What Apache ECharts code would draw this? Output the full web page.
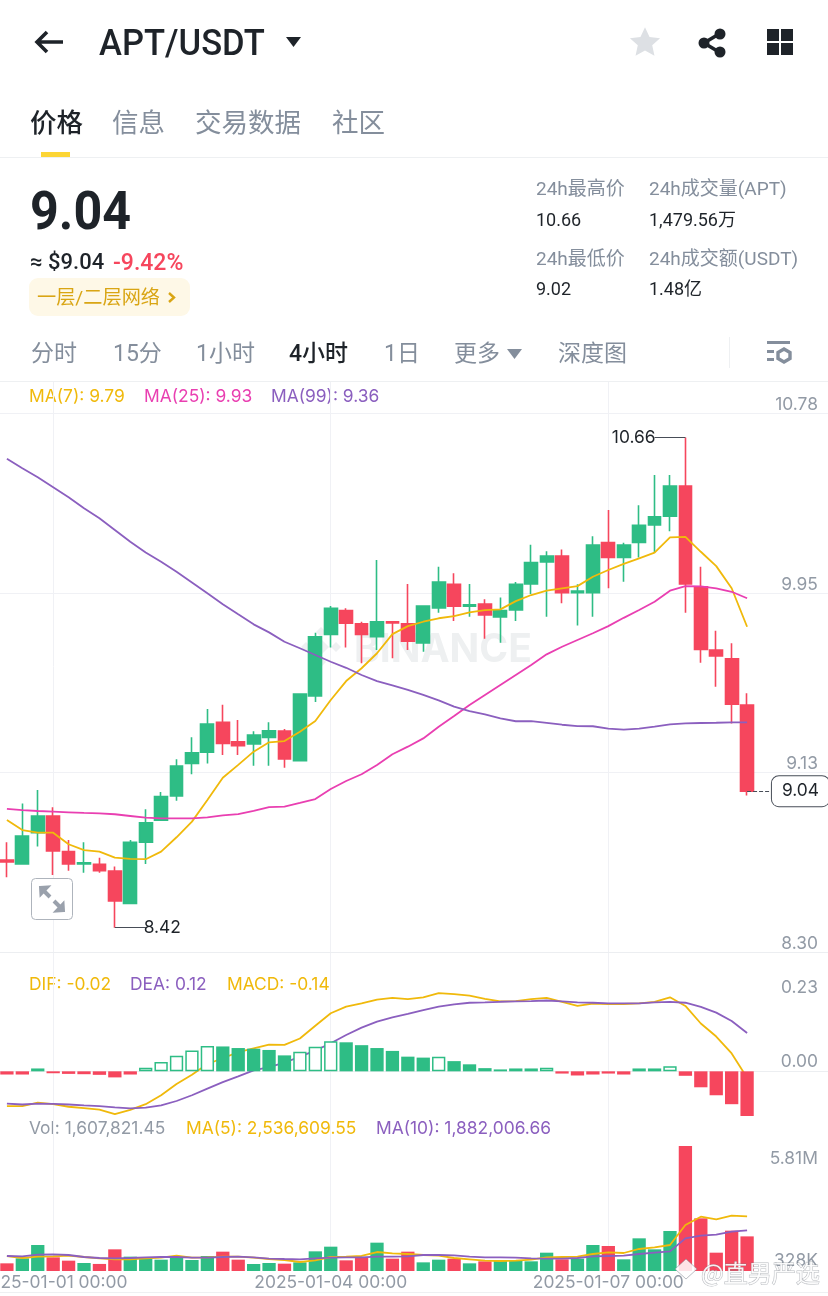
<!DOCTYPE html>
<html lang="zh">
<head>
<meta charset="utf-8">
<title>APT/USDT</title>
<script src="https://cdn.jsdelivr.net/npm/echarts@6/dist/echarts.min.js"></script>
<style>
  html, body { margin: 0; padding: 0; background: #fff; }
  #page { position: relative; width: 828px; height: 1296px; overflow: hidden; font-family: Roboto, "Noto Sans CJK SC", sans-serif; }
  #chart { position: absolute; left: 0; top: 0; width: 828px; height: 1296px; }
  .t { position: absolute; white-space: nowrap; line-height: 1; color: #848E9C; }
  .d { color: #1E2329; }
  .rule { position: absolute; left: 0; width: 828px; height: 1px; background: #EEF0F2; }
  svg { position: absolute; overflow: visible; }
</style>
</head>
<body>
<div id="page">
  <div id="chart"></div>

  <svg style="left:34px;top:30px" width="30" height="24" viewBox="0 0 30 24"><path d="M13 2 3 12l10 10M3 12h26" fill="none" stroke="#1E2329" stroke-width="3.6"/></svg>
  <div class="t d" style="left:99px;top:25px;font-size:36px;font-weight:500;transform:scaleX(.96);transform-origin:left">APT/USDT</div>
  <svg style="left:286px;top:37px" width="15" height="10"><path d="M0 0h15L7.500 10z" fill="#1E2329"/></svg>
  <svg style="left:629px;top:26px" width="32" height="32" viewBox="0 0 24 24"><path d="M12 1l3.400 7.300 7.900.9-5.900 5.300 1.700 7.800L12 18.300l-7.100 4 1.700-7.800L.7 9.200l7.900-.9z" fill="#DDE0E4"/></svg>
  <svg style="left:698px;top:28px" width="28" height="30" viewBox="0 0 28 30"><path d="M21 6 6 15l15 9" fill="none" stroke="#1E2329" stroke-width="3.600"/><circle cx="22" cy="6" r="5.500" fill="#1E2329"/><circle cx="6" cy="15" r="5.500" fill="#1E2329"/><circle cx="22" cy="24" r="5.500" fill="#1E2329"/></svg>
  <svg style="left:767px;top:29px" width="26" height="26"><path d="M0 0h12v12H0zM14 0h12v12H14zM0 14h12v12H0zM14 14h12v12H14z" fill="#1E2329"/></svg>

  <div class="t d" style="left:30px;top:110px;font-size:26.500px;font-weight:500">价格</div>
  <div class="t" style="left:112px;top:110px;font-size:26.500px">信息</div>
  <div class="t" style="left:195px;top:110px;font-size:26.500px">交易数据</div>
  <div class="t" style="left:332px;top:110px;font-size:26.500px">社区</div>
  <div style="position:absolute;left:41px;top:152px;width:29px;height:5px;background:#FCD535"></div>
  <div class="rule" style="top:157px"></div>

  <div class="t d" style="left:30px;top:184px;font-size:54px;font-weight:700;transform:scaleX(.93);transform-origin:left">9.04</div>
  <div class="t d" style="left:30px;top:251px;font-size:22px;font-weight:500">≈ $9.04</div>
  <div class="t" style="left:113px;top:251px;font-size:23px;font-weight:500;color:#F6465D">-9.42%</div>
  <div style="position:absolute;left:29px;top:278px;width:161px;height:38px;border-radius:9px;background:#FEF8E7"></div>
  <div class="t" style="left:37px;top:288px;font-size:19.200px;color:#D9A514">一层/二层网络</div>
  <svg style="left:167px;top:291px" width="9" height="13"><path d="M2 2l5 4.500-5 4.500" fill="none" stroke="#D9A514" stroke-width="2.400"/></svg>

  <div class="t" style="left:536px;top:179px;font-size:19px">24h最高价</div>
  <div class="t d" style="left:536px;top:211px;font-size:18px">10.66</div>
  <div class="t" style="left:649px;top:179px;font-size:19px">24h成交量(APT)</div>
  <div class="t d" style="left:649px;top:211px;font-size:18px">1,479.56万</div>
  <div class="t" style="left:536px;top:249px;font-size:19px">24h最低价</div>
  <div class="t d" style="left:536px;top:280px;font-size:18px">9.02</div>
  <div class="t" style="left:649px;top:249px;font-size:19px">24h成交额(USDT)</div>
  <div class="t d" style="left:649px;top:280px;font-size:18px">1.48亿</div>

  <div class="t" style="left:31px;top:342px;font-size:23px">分时</div>
  <div class="t" style="left:113px;top:342px;font-size:23px">15分</div>
  <div class="t" style="left:196px;top:342px;font-size:23px">1小时</div>
  <div class="t d" style="left:289px;top:342px;font-size:23px;font-weight:500">4小时</div>
  <div class="t" style="left:384px;top:342px;font-size:23px">1日</div>
  <div class="t" style="left:454px;top:342px;font-size:23px">更多</div>
  <svg style="left:507px;top:349px" width="15" height="10"><path d="M0 0h15L7.500 10z" fill="#848E9C"/></svg>
  <div class="t" style="left:558px;top:342px;font-size:23px">深度图</div>
  <div style="position:absolute;left:729px;top:337px;width:1px;height:31px;background:#EEF0F2"></div>
  <svg style="left:767px;top:341px" width="24" height="24"><path d="M0 0h23v3H0zM0 9h7v3H0zM0 17h7v3H0z" fill="#848E9C"/><path d="M17 8l6 3.500v6L17 21l-6-3.500v-6z" fill="none" stroke="#848E9C" stroke-width="3.400"/></svg>
  <div class="rule" style="top:381px"></div>

  <svg style="left:31px;top:878px" width="42" height="42"><rect x=".5" y=".5" width="41" height="41" rx="4" fill="#fff" stroke="#AEB4BC"/><path d="M9 9l9-.5-8.500 9zM33 33l-9 .5 8.500-9z" fill="#9AA1AC" stroke="#9AA1AC" stroke-width="2"/><path d="M12 12l7 7M30 30l-7-7" stroke="#9AA1AC" stroke-width="4"/></svg>

  <div class="rule" style="top:1292px"></div>
</div>

<script>
/* ========== 行情数据 ========== */

const timeLabels = [
  '2024-12-31 12:00', '2024-12-31 16:00', '2024-12-31 20:00',
  '2025-01-01 00:00', '2025-01-01 04:00', '2025-01-01 08:00', '2025-01-01 12:00', '2025-01-01 16:00', '2025-01-01 20:00',
  '2025-01-02 00:00', '2025-01-02 04:00', '2025-01-02 08:00', '2025-01-02 12:00', '2025-01-02 16:00', '2025-01-02 20:00',
  '2025-01-03 00:00', '2025-01-03 04:00', '2025-01-03 08:00', '2025-01-03 12:00', '2025-01-03 16:00', '2025-01-03 20:00',
  '2025-01-04 00:00', '2025-01-04 04:00', '2025-01-04 08:00', '2025-01-04 12:00', '2025-01-04 16:00', '2025-01-04 20:00',
  '2025-01-05 00:00', '2025-01-05 04:00', '2025-01-05 08:00', '2025-01-05 12:00', '2025-01-05 16:00', '2025-01-05 20:00',
  '2025-01-06 00:00', '2025-01-06 04:00', '2025-01-06 08:00', '2025-01-06 12:00', '2025-01-06 16:00', '2025-01-06 20:00',
  '2025-01-07 00:00', '2025-01-07 04:00', '2025-01-07 08:00', '2025-01-07 12:00', '2025-01-07 16:00', '2025-01-07 20:00',
  '2025-01-08 00:00', '2025-01-08 04:00', '2025-01-08 08:00', '2025-01-08 12:00'
]
const shownTimes = ['2025-01-01 00:00', '2025-01-04 00:00', '2025-01-07 00:00']

const opens = [
  8.723, 8.705, 8.849, 8.926, 8.762, 8.705, 8.704, 8.673, 8.524, 8.805,
  8.907, 9.018, 9.168, 9.219, 9.357, 9.268, 9.257, 9.288, 9.317, 9.180,
  9.479, 9.762, 9.871, 9.811, 9.751, 9.820, 9.811, 9.722, 9.883, 9.992,
  9.892, 9.901, 9.842, 9.874, 9.994, 10.095, 10.122, 9.954, 9.954, 10.184,
  10.116, 10.185, 10.265, 10.306, 10.445, 9.981, 9.690, 9.650, 9.437
]
const closes = [
  8.714, 8.834, 8.926, 8.765, 8.705, 8.711, 8.674, 8.535, 8.805, 8.895,
  9.015, 9.156, 9.217, 9.349, 9.260, 9.249, 9.299, 9.318, 9.188, 9.487,
  9.751, 9.882, 9.813, 9.762, 9.820, 9.814, 9.731, 9.892, 10.003, 9.892,
  9.898, 9.851, 9.871, 9.992, 10.092, 10.122, 9.954, 9.961, 10.173, 10.116,
  10.173, 10.264, 10.303, 10.445, 9.994, 9.693, 9.662, 9.440, 9.04
]
const lows = [
  8.644, 8.705, 8.785, 8.654, 8.674, 8.665, 8.665, 8.412, 8.524, 8.705,
  8.907, 8.996, 9.118, 9.168, 9.207, 9.207, 9.157, 9.157, 9.148, 9.180,
  9.451, 9.702, 9.702, 9.629, 9.690, 9.652, 9.690, 9.682, 9.861, 9.823,
  9.843, 9.742, 9.723, 9.823, 9.948, 9.843, 9.905, 9.803, 9.843, 9.974,
  10.004, 10.116, 10.138, 10.237, 9.861, 9.631, 9.521, 9.352, 9.02
]
const highs = [
  8.805, 8.984, 9.046, 8.966, 8.815, 8.805, 8.734, 8.693, 8.815, 8.957,
  9.036, 9.187, 9.288, 9.418, 9.438, 9.368, 9.316, 9.357, 9.326, 9.487,
  9.769, 9.892, 9.882, 9.820, 10.104, 9.820, 9.994, 9.892, 10.073, 10.043,
  9.994, 9.923, 9.932, 10.003, 10.174, 10.145, 10.153, 9.992, 10.214, 10.334,
  10.184, 10.356, 10.495, 10.495, 10.668, 10.073, 9.779, 9.721, 9.491
]

const ma7 = [
  8.907, 8.861, 8.849, 8.849, 8.796, 8.769, 8.762, 8.734, 8.729, 8.727,
  8.762, 8.828, 8.900, 9.000, 9.102, 9.161, 9.222, 9.265, 9.271, 9.314,
  9.363, 9.460, 9.547, 9.606, 9.675, 9.763, 9.800, 9.820, 9.836, 9.846,
  9.863, 9.873, 9.877, 9.915, 9.943, 9.963, 9.974, 9.984, 10.027, 10.058,
  10.086, 10.112, 10.138, 10.208, 10.211, 10.142, 10.076, 9.974, 9.797
]
const ma25 = [
  8.959, 8.953, 8.949, 8.946, 8.943, 8.940, 8.938, 8.934, 8.926, 8.918,
  8.915, 8.915, 8.915, 8.920, 8.929, 8.935, 8.950, 8.967, 8.969, 8.986,
  9.004, 9.050, 9.087, 9.118, 9.161, 9.210, 9.245, 9.283, 9.337, 9.386,
  9.437, 9.483, 9.529, 9.575, 9.621, 9.670, 9.705, 9.736, 9.767, 9.800,
  9.838, 9.874, 9.912, 9.963, 9.984, 9.983, 9.974, 9.958, 9.928
]
const ma99 = [
  10.570, 10.526, 10.485, 10.439, 10.393, 10.342, 10.296, 10.242, 10.188, 10.139,
  10.096, 10.050, 10.001, 9.951, 9.901, 9.854, 9.808, 9.771, 9.728, 9.698,
  9.667, 9.636, 9.608, 9.575, 9.547, 9.527, 9.506, 9.483, 9.458, 9.429,
  9.409, 9.394, 9.375, 9.362, 9.363, 9.355, 9.346, 9.340, 9.339, 9.328,
  9.323, 9.328, 9.337, 9.348, 9.352, 9.354, 9.355, 9.357, 9.357
]

const dif = [
  -0.109, -0.109, -0.098, -0.103, -0.111, -0.115, -0.120, -0.134, -0.121, -0.103,
  -0.075, -0.040, -0.011, 0.023, 0.041, 0.060, 0.072, 0.084, 0.083, 0.103,
  0.143, 0.182, 0.203, 0.213, 0.225, 0.230, 0.226, 0.232, 0.245, 0.242,
  0.237, 0.227, 0.219, 0.220, 0.226, 0.230, 0.218, 0.205, 0.212, 0.211,
  0.211, 0.213, 0.218, 0.232, 0.205, 0.150, 0.109, 0.056, -0.02
]
const dea = [
  -0.101, -0.104, -0.101, -0.102, -0.104, -0.107, -0.109, -0.113, -0.116, -0.114,
  -0.107, -0.093, -0.075, -0.054, -0.034, -0.016, 0.003, 0.013, 0.027, 0.046,
  0.065, 0.088, 0.114, 0.137, 0.156, 0.169, 0.180, 0.192, 0.203, 0.210,
  0.215, 0.216, 0.218, 0.219, 0.220, 0.222, 0.219, 0.216, 0.215, 0.213,
  0.213, 0.213, 0.216, 0.218, 0.215, 0.202, 0.184, 0.158, 0.12
]
const macd = [
  -0.010, -0.010, 0.009, -0.006, -0.008, -0.009, -0.011, -0.019, -0.010, 0.011,
  0.029, 0.049, 0.065, 0.079, 0.078, 0.073, 0.071, 0.067, 0.050, 0.061,
  0.077, 0.094, 0.091, 0.082, 0.073, 0.064, 0.046, 0.043, 0.046, 0.032,
  0.022, 0.010, 0.006, 0.009, 0.009, 0.011, -0.007, -0.013, -0.010, -0.007,
  -0.010, 0.009, 0.009, 0.016, -0.014, -0.050, -0.075, -0.103, -0.14
]
// 空心柱的下标
const macdHollow = [9, 10, 11, 12, 13, 19, 20, 21, 28, 35, 43]

const volumes = [
  356000, 588000, 1207000, 635000, 480000, 372000, 328000, 1006000, 666000, 588000,
  526000, 666000, 511000, 697000, 898000, 526000, 325000, 372000, 341000, 402000,
  913000, 1130000, 495000, 619000, 1316000, 573000, 898000, 402000, 526000, 573000,
  356000, 449000, 480000, 495000, 449000, 851000, 542000, 573000, 1207000, 1161000,
  542000, 1517000, 1006000, 1858000, 5810000, 2446000, 851000, 1873000, 1607821
]
const volMa5 = [
  697000, 604000, 666000, 681000, 712000, 650000, 588000, 542000, 542000, 588000,
  619000, 712000, 619000, 635000, 666000, 666000, 619000, 557000, 511000, 418000,
  495000, 650000, 666000, 697000, 882000, 820000, 789000, 743000, 712000, 604000,
  542000, 480000, 464000, 480000, 526000, 635000, 650000, 666000, 789000, 867000,
  836000, 1022000, 1099000, 1207000, 2136000, 2523000, 2399000, 2570000, 2536610
]
const volMa10 = [
  697000, 681000, 759000, 774000, 743000, 650000, 604000, 588000, 604000, 635000,
  650000, 650000, 619000, 619000, 650000, 666000, 635000, 573000, 557000, 542000,
  588000, 619000, 635000, 635000, 666000, 666000, 681000, 743000, 743000, 728000,
  666000, 635000, 635000, 619000, 588000, 573000, 573000, 604000, 681000, 697000,
  712000, 789000, 851000, 913000, 1517000, 1641000, 1687000, 1827000, 1882007
]

const priceTicks = [8.30, 9.127, 9.953, 10.78]
const macdTicks = [0, 0.23]
const volTopTick = [5810000]
const volLowTick = [328000]

const priceLegend = ['MA(7): 9.79', 'MA(25): 9.93', 'MA(99): 9.36']
const macdLegend = ['DIF: -0.02', 'DEA: 0.12', 'MACD: -0.14']
const volLegend = ['Vol: 1,607,821.45', 'MA(5): 2,536,609.55', 'MA(10): 1,882,006.66']

/* ========== 样式 ========== */

const UP = '#2EBD85'
const DOWN = '#F6465D'
const ORANGE = '#F0B90B'
const PINK = '#E93FB1'
const PURPLE = '#8B5FBF'
const GREY = '#929AA5'
const LINE = '#F0F1F5'
const FONT = 'Inter, "Noto Sans", sans-serif'
const FONT_SIZE = 17.4

// 右侧留 5 根 K 线的空位
const axisDates = timeLabels.concat(['', '', '', '', ''])
const candles = opens.map((o, i) => [o, closes[i], lows[i], highs[i]])

function lineSeries(name, data, color, axis, z) {
  return {
    name,
    type: 'line',
    data,
    xAxisIndex: axis,
    yAxisIndex: axis,
    z: z || 4,
    showSymbol: false,
    silent: true,
    lineStyle: { width: 1.8, color },
    itemStyle: { color }
  }
}

function xAxis(gridIndex, showLabel) {
  return {
    type: 'category',
    gridIndex,
    data: axisDates,
    axisLine: { show: !showLabel, lineStyle: { color: '#ECEEF1', width: 1 } },
    axisTick: { show: false },
    axisLabel: {
      show: showLabel,
      fontFamily: FONT,
      fontSize: FONT_SIZE,
      color: GREY,
      margin: 3,
      hideOverlap: false,
      lineHeight: 17,
      interval: (i, v) => shownTimes.includes(v)
    },
    splitLine: {
      show: true,
      alignWithLabel: true,
      interval: (i, v) => shownTimes.includes(v),
      lineStyle: { color: LINE, width: 1 }
    }
  }
}

function yAxis(gridIndex, min, max, ticks, formatter, extra) {
  return {
    type: 'value',
    gridIndex,
    position: 'right',
    min,
    max,
    axisLine: { show: false },
    axisTick: { show: false, customValues: ticks },
    splitLine: { show: gridIndex === 0, lineStyle: { color: LINE, width: 1 } },
    axisLabel: Object.assign({
      inside: true,
      margin: 14,
      fontFamily: FONT,
      fontSize: FONT_SIZE,
      color: GREY,
      verticalAlign: 'bottom',
      lineHeight: 17,
      customValues: ticks,
      formatter
    }, extra)
  }
}

function legendText(x, y, text, fill) {
  return { type: 'text', x, y, silent: true, style: { text, fill, fontFamily: FONT, fontSize: FONT_SIZE, verticalAlign: 'middle' } }
}

function rhomb(cx, cy, r, fill) {
  return {
    type: 'polygon',
    silent: true,
    z: 1,
    shape: { points: [[cx, cy - r], [cx + r, cy], [cx, cy + r], [cx - r, cy]] },
    style: { fill }
  }
}

function gridBox(top, height) {
  return { left: -0.8, width: 832.7, top, height, outerBoundsMode: 'none' }
}

/* ========== 图表配置 ========== */

const option = {
  animation: false,
  grid: [gridBox(381, 571), gridBox(952, 164), gridBox(1116, 155)],
  xAxis: [xAxis(0, false), xAxis(1, false), xAxis(2, true)],
  yAxis: [
    yAxis(0, 8.30, 10.928, priceTicks, v => v.toFixed(2)),
    yAxis(1, -0.14, 0.374, macdTicks, v => v.toFixed(2), { lineHeight: 20 }),
    yAxis(2, 0, 7198000, volTopTick, () => '5.81M', { verticalAlign: 'top', lineHeight: 26 }),
    yAxis(2, 0, 7198000, volLowTick, () => '328K', { lineHeight: 6 })
  ],
  graphic: [
    rhomb(321, 647, 8, '#EEF0F1'),
    rhomb(321, 632, 5, '#EEF0F1'),
    rhomb(321, 662, 5, '#EEF0F1'),
    rhomb(306, 647, 5, '#EEF0F1'),
    rhomb(336, 647, 5, '#EEF0F1'),
    { type: 'text', x: 354, y: 650, z: 1, silent: true, style: { text: 'BINANCE', fill: '#EEF0F1', fontFamily: FONT, fontWeight: 700, fontSize: 39, verticalAlign: 'middle' } },
    legendText(29, 397, priceLegend[0], ORANGE),
    legendText(144, 397, priceLegend[1], PINK),
    legendText(271, 397, priceLegend[2], PURPLE),
    legendText(29, 985, macdLegend[0], ORANGE),
    legendText(130, 985, macdLegend[1], PURPLE),
    legendText(227, 985, macdLegend[2], ORANGE),
    legendText(29, 1129, volLegend[0], GREY),
    legendText(186, 1129, volLegend[1], ORANGE),
    legendText(376, 1129, volLegend[2], PURPLE),
    { type: 'text', x: 701, y: 1273, z: 100, silent: true, style: { text: '@直男严选', fill: 'rgba(255,255,255,0.9)', stroke: 'rgba(120,125,135,0.55)', lineWidth: 1, fontFamily: '"Noto Sans CJK SC"', fontSize: 24, verticalAlign: 'middle' } },
    { type: 'polygon', z: 100, silent: true, shape: { points: [[686, 1259], [697, 1269], [686, 1279], [675, 1269]] }, style: { fill: 'rgba(255,255,255,0.85)', stroke: 'rgba(120,125,135,0.5)', lineWidth: 1 } }
  ],
  series: [
    {
      name: 'K',
      type: 'candlestick',
      data: candles,
      barWidth: 13.3,
      silent: true,
      itemStyle: { color: UP, color0: DOWN, borderColor: UP, borderColor0: DOWN, borderWidth: 1.6 },
      markLine: {
        silent: true,
        symbol: 'none',
        animation: false,
        lineStyle: { color: '#474D57', width: 1, type: 'solid' },
        label: { fontFamily: FONT, fontSize: FONT_SIZE, color: '#1E2329', position: 'end' },
        data: [
          [{ coord: [44, 10.668], label: { formatter: '10.66', distance: -1 } }, { coord: [42, 10.668] }],
          [{ coord: [7, 8.412], label: { formatter: '8.42', distance: -2 } }, { coord: [9, 8.412] }],
          [
            {
              coord: [48, 9.04],
              lineStyle: { type: 'dashed', color: '#474D57' },
              label: {
                formatter: '9.04',
                distance: -6,
                backgroundColor: '#fff',
                borderColor: '#474D57',
                borderWidth: 1,
                borderRadius: 7,
                padding: [7, 10, 6, 10]
              }
            },
            { coord: [50, 9.04] }
          ]
        ]
      }
    },
    lineSeries('MA7', ma7, ORANGE, 0),
    lineSeries('MA25', ma25, PINK, 0),
    lineSeries('MA99', ma99, PURPLE, 0),
    // MACD 柱盖在 DIF/DEA 线上面
    lineSeries('DIF', dif, ORANGE, 1, 1),
    lineSeries('DEA', dea, PURPLE, 1, 1),
    {
      name: 'MACD',
      type: 'bar',
      xAxisIndex: 1,
      yAxisIndex: 1,
      barWidth: 13.3,
      silent: true,
      z: 5,
      data: macd.map((v, i) => ({
        value: v,
        itemStyle: macdHollow.includes(i)
          ? { color: '#fff', borderColor: UP, borderWidth: 1.5 }
          : { color: v >= 0 ? UP : DOWN }
      }))
    },
    {
      name: 'Vol',
      type: 'bar',
      xAxisIndex: 2,
      yAxisIndex: 2,
      barWidth: 13.3,
      silent: true,
      data: volumes.map((v, i) => ({
        value: v,
        itemStyle: { color: closes[i] >= opens[i] ? UP : DOWN }
      }))
    },
    lineSeries('MA5', volMa5, ORANGE, 2),
    lineSeries('MA10', volMa10, PURPLE, 2)
  ]
}

// 第二条成交量坐标轴只用来放 328K
option.series.push({ type: 'line', data: [], xAxisIndex: 2, yAxisIndex: 3 })

const chart = echarts.init(document.getElementById('chart'), null, { renderer: 'canvas' })
chart.setOption(option)
</script>
</body>
</html>
